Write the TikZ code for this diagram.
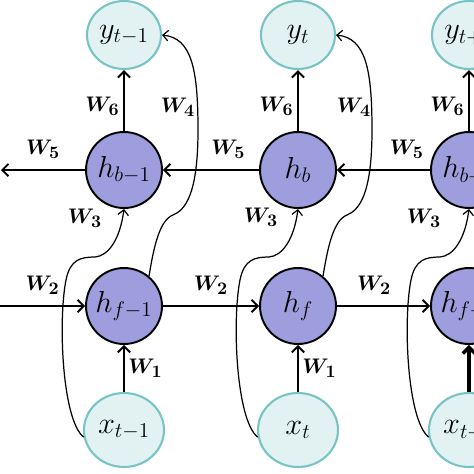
\documentclass[tikz,border=0pt]{standalone}
\usepackage{amsmath}
\usepackage{amssymb}
\usepackage{bm}
\usepackage{tikz}
\usetikzlibrary{positioning, arrows, arrows.meta, shapes.geometric}

\definecolor{hidfill}{RGB}{158,158,222}
\definecolor{iofill}{RGB}{226,242,243}
\definecolor{iodraw}{RGB}{120,196,196}
\newcommand{\wlab}[1]{$\bm{W}_{\text{\normalsize\bfseries #1}}$}

\begin{document}
\begin{tikzpicture}[x=0.02cm, y=-0.02cm,
  hid/.style={circle, draw=black, line width=1.1pt, fill=hidfill, minimum size=1.52cm, inner sep=0pt, font=\LARGE},
  yout/.style={ellipse, draw=iodraw, line width=1.2pt, fill=iofill, minimum width=1.48cm, minimum height=1.36cm, inner sep=0pt, font=\LARGE},
  xin/.style={yout, minimum width=1.6cm, minimum height=1.48cm},
  wl/.style={font=\large, inner sep=2pt},
  con/.style={line width=1.1pt, -{Straight Barb[length=3.5pt,width=7pt]}},
  loop/.style={line width=0.7pt, -{Straight Barb[length=3pt,width=6pt]}}]
\clip (0,0) rectangle (474,474);

% nodes, column by column
\node[yout] (y1) at (124,35)  {$y_{t-1}$};
\node[hid]  (hb1) at (124,170) {$h_{b-1}$};
\node[hid]  (hf1) at (124,306) {$h_{f-1}$};
\node[xin]  (x1) at (124,430) {$x_{t-1}$};

\node[yout] (y2) at (298,35)  {$y_{t}$};
\node[hid]  (hb2) at (298,170) {$h_{b}$};
\node[hid]  (hf2) at (298,306) {$h_{f}$};
\node[xin]  (x2) at (298,430) {$x_{t}$};

\node[yout] (y3) at (469,35)  {$y_{t+1}$};
\node[hid]  (hb3) at (469,170) {$h_{b+1}$};
\node[hid]  (hf3) at (469,306) {$h_{f+1}$};
\node[xin]  (x3) at (469,430) {$x_{t+1}$};

\coordinate (L5) at (1,170);
\coordinate (L2) at (0,306);

% straight connectors
\draw[con] (hb1) -- (y1) node[wl,pos=0.4,left] {\wlab{6}};
\draw[con] (hb2) -- (y2) node[wl,pos=0.4,left] {\wlab{6}};
\draw[con] (hb3) -- (y3) node[wl,pos=0.4,left] {\wlab{6}};

\draw[con] (x1) -- (hf1) node[wl,midway,right] {\wlab{1}};
\draw[con] (x2) -- (hf2) node[wl,midway,right] {\wlab{1}};
\draw[con, line width=2pt] (x3) -- (hf3);

\draw[con] (L2) -- (hf1) node[wl,midway,above=4pt] {\wlab{2}};
\draw[con] (hf1) -- (hf2) node[wl,midway,above=4pt] {\wlab{2}};
\draw[con] (hf2) -- (hf3) node[wl,pos=0.4,above=4pt] {\wlab{2}};

\draw[con] (hb1) -- (L5) node[wl,midway,above=4pt] {\wlab{5}};
\draw[con] (hb2) -- (hb1) node[wl,pos=0.32,above=4pt] {\wlab{5}};
\draw[con] (hb3) -- (hb2) node[wl,pos=0.25,above=4pt] {\wlab{5}};

% W3: input to backward state
\draw[loop] (x1.190) .. controls (62,420) and (58,320) .. (66,280)
  .. controls (70,260) and (80,257) .. (95,257)
  .. controls (108,256) and (120,240) .. (hb1.south);
\draw[loop] (x2.190) .. controls (236,420) and (232,320) .. (240,280)
  .. controls (244,260) and (254,257) .. (269,257)
  .. controls (282,256) and (294,240) .. (hb2.south);
\draw[loop] (x3.190) .. controls (407,420) and (403,320) .. (411,280)
  .. controls (415,260) and (425,257) .. (440,257)
  .. controls (453,256) and (465,240) .. (hb3.south);
\node[wl] (w31) at (85,218)  {\wlab{3}};
\node[wl] (w32) at (261,217) {\wlab{3}};
\node[wl] (w33) at (424,218) {\wlab{3}};

% W4: forward state to output
\draw[loop] (hf1.50) .. controls (154,245) and (160,220) .. (173,215)
  .. controls (185,210) and (198,195) .. (198,130)
  .. controls (198,70) and (192,38) .. (y1.east);
\draw[loop] (hf2.50) .. controls (328,245) and (334,220) .. (347,215)
  .. controls (359,210) and (372,195) .. (372,130)
  .. controls (372,70) and (366,38) .. (y2.east);
\node[wl] (w41) at (178,107) {\wlab{4}};
\node[wl] (w42) at (354,107) {\wlab{4}};
\end{tikzpicture}
\end{document}
